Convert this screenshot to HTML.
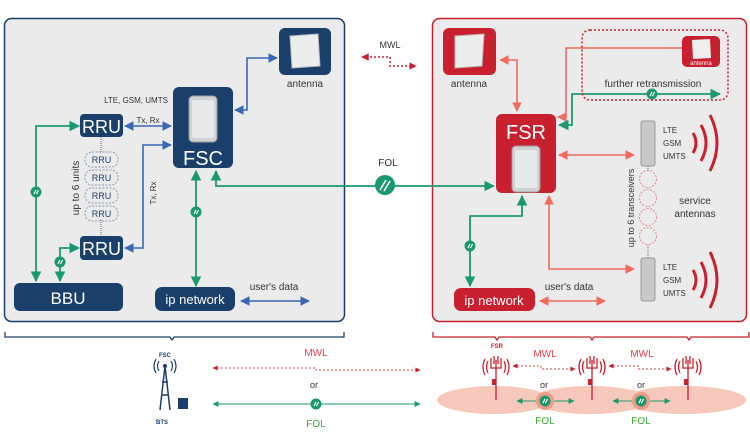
<!DOCTYPE html>
<html><head><meta charset="utf-8"><style>
html,body{margin:0;padding:0;background:#fff}
svg{display:block;font-family:"Liberation Sans",sans-serif}
</style></head><body>
<svg width="750" height="439" viewBox="0 0 750 439" xmlns="http://www.w3.org/2000/svg">
<defs>
<marker id="ab" viewBox="0 0 10 10" refX="9" refY="5" markerWidth="6" markerHeight="6" orient="auto-start-reverse"><path d="M0,0L10,5L0,10z" fill="#3a66b5"/></marker>
<marker id="ag" viewBox="0 0 10 10" refX="9" refY="5" markerWidth="6" markerHeight="6" orient="auto-start-reverse"><path d="M0,0L10,5L0,10z" fill="#1a9a6c"/></marker>
<marker id="ar" viewBox="0 0 10 10" refX="9" refY="5" markerWidth="6" markerHeight="6" orient="auto-start-reverse"><path d="M0,0L10,5L0,10z" fill="#f06a60"/></marker>
<marker id="ad" viewBox="0 0 10 10" refX="9" refY="5" markerWidth="5" markerHeight="5" orient="auto-start-reverse"><path d="M0,0L10,5L0,10z" fill="#c8202f"/></marker>
<g id="gi"><circle r="5.5" fill="#1a9a6c"/><path d="M-2,2L0,-2M0.5,2L2.5,-2" stroke="#fff" stroke-width="1.2"/></g>
<g id="box"><rect x="-14" y="-22" width="28" height="46" rx="4" fill="#d0d2d4" stroke="#9a9da0"/><rect x="-11" y="-18" width="22" height="38" rx="2" fill="#e8e9ea"/></g>
</defs>
<rect x="4.5" y="18.5" width="340" height="303" rx="7" fill="#ebebeb" stroke="#1b3f6b" stroke-width="1.5"/>
<rect x="432.5" y="18.5" width="314" height="303" rx="7" fill="#ebebeb" stroke="#c8202f" stroke-width="1.5"/>

<g stroke="#3a66b5" stroke-width="1.6" fill="none">
<path d="M125,126H171" marker-start="url(#ab)" marker-end="url(#ab)"/>
<path d="M125,248H143V145H171" marker-start="url(#ab)" marker-end="url(#ab)"/>
<path d="M235,110H247V58H277" marker-start="url(#ab)" marker-end="url(#ab)"/>
<path d="M241,301H309" marker-start="url(#ab)" marker-end="url(#ab)"/>
</g>
<g stroke="#1a9a6c" stroke-width="1.8" fill="none">
<path d="M79,126H36V281" marker-start="url(#ag)" marker-end="url(#ag)"/>
<path d="M79,248H60V281" marker-start="url(#ag)" marker-end="url(#ag)"/>
<path d="M196,171V286" marker-start="url(#ag)" marker-end="url(#ag)"/>
<path d="M216,171V186H494" marker-start="url(#ag)" marker-end="url(#ag)"/>
</g>
<use href="#gi" x="36" y="192"/><use href="#gi" x="60" y="262"/><use href="#gi" x="196" y="212"/>
<circle cx="385" cy="185" r="10" fill="#1a9a6c"/><path d="M380,190L386,180M384,191L390,181" stroke="#fff" stroke-width="1.5"/>
<text x="388" y="166" font-size="10" fill="#333" text-anchor="middle">FOL</text>

<rect x="279" y="28" width="52" height="47" rx="6" fill="#1b3f6b"/>
<path d="M290,36L318,34L320,66L292,68Z" fill="#eceded" stroke="#bbb"/>
<text x="305" y="87" font-size="10" fill="#333" text-anchor="middle">antenna</text>
<rect x="173" y="87" width="60" height="81" rx="6" fill="#1b3f6b"/>
<use href="#box" x="203" y="118"/>
<text x="203" y="165" font-size="20" fill="#fff" text-anchor="middle">FSC</text>
<text x="136" y="103" font-size="8" fill="#333" text-anchor="middle">LTE, GSM, UMTS</text>
<text x="148" y="123" font-size="8" fill="#333" text-anchor="middle">Tx, Rx</text>
<text x="0" y="0" font-size="8" fill="#333" text-anchor="middle" transform="translate(156,193) rotate(-90)">Tx, Rx</text>
<rect x="80" y="114" width="43" height="23" rx="4" fill="#1b3f6b"/>
<text x="101.5" y="133" font-size="18" fill="#fff" text-anchor="middle">RRU</text>
<rect x="80" y="236" width="43" height="24" rx="4" fill="#1b3f6b"/>
<text x="101.5" y="255" font-size="18" fill="#fff" text-anchor="middle">RRU</text>
<path d="M101,137V152M101,220V236" stroke="#666" stroke-dasharray="1,1"/>
<g fill="none" stroke="#8a9ab5" stroke-dasharray="2,1.5">
<rect x="85" y="152" width="33" height="15" rx="7"/><rect x="85" y="170" width="33" height="15" rx="7"/>
<rect x="85" y="188" width="33" height="15" rx="7"/><rect x="85" y="206" width="33" height="15" rx="7"/></g>
<g font-size="9" fill="#1b3f6b" text-anchor="middle"><text x="101.5" y="163">RRU</text><text x="101.5" y="181">RRU</text><text x="101.5" y="199">RRU</text><text x="101.5" y="217">RRU</text></g>
<text font-size="10" fill="#333" text-anchor="middle" transform="translate(79,188) rotate(-90)">up to 6 units</text>
<rect x="14" y="283" width="109" height="28" rx="6" fill="#1b3f6b"/>
<text x="68" y="304" font-size="17" fill="#fff" text-anchor="middle">BBU</text>
<rect x="155" y="287" width="80" height="24" rx="7" fill="#1b3f6b"/>
<text x="195" y="304" font-size="13" fill="#fff" text-anchor="middle">ip network</text>
<text x="274" y="290" font-size="10" fill="#333" text-anchor="middle">user's data</text>

<text x="390" y="48" font-size="9" fill="#333" text-anchor="middle">MWL</text>
<path d="M362,57H390V66H416" stroke="#c8202f" stroke-width="1.5" stroke-dasharray="2,2" fill="none" marker-start="url(#ad)" marker-end="url(#ad)"/>

<g stroke="#f06a60" stroke-width="1.6" fill="none">
<path d="M500,60H517V111" marker-start="url(#ar)" marker-end="url(#ar)"/>
<path d="M682,48H566V117H558" marker-end="url(#ar)"/>
<path d="M559,155H634" marker-start="url(#ar)" marker-end="url(#ar)"/>
<path d="M549,196V269H634" marker-start="url(#ar)" marker-end="url(#ar)"/>
<path d="M540,301H605" marker-start="url(#ar)" marker-end="url(#ar)"/>
</g>
<g stroke="#1a9a6c" stroke-width="1.8" fill="none">
<path d="M559,125H572V94H720" marker-start="url(#ag)" marker-end="url(#ag)"/>
<path d="M522,196V216H470V286" marker-start="url(#ag)" marker-end="url(#ag)"/>
</g>
<use href="#gi" x="652" y="94"/><use href="#gi" x="470" y="246"/>
<rect x="582" y="30" width="146" height="70" rx="8" fill="none" stroke="#c8202f" stroke-width="1.5" stroke-dasharray="2,2"/>
<rect x="682" y="36" width="38" height="31" rx="5" fill="#c8202f"/>
<path d="M692,40L710,39L711,58L693,59Z" fill="#eee"/>
<text x="701" y="65" font-size="6" fill="#fff" text-anchor="middle">antenna</text>
<text x="653" y="87" font-size="10" fill="#333" text-anchor="middle">further retransmission</text>
<rect x="443" y="28" width="53" height="47" rx="6" fill="#c8202f"/>
<path d="M455,36L484,34L482,66L455,68Z" fill="#eceded" stroke="#bbb"/>
<text x="469" y="87" font-size="10" fill="#333" text-anchor="middle">antenna</text>
<rect x="496" y="114" width="60" height="79" rx="6" fill="#c8202f"/>
<text x="526" y="139" font-size="20" fill="#fff" text-anchor="middle">FSR</text>
<use href="#box" x="526" y="168"/>
<rect x="454" y="288" width="81" height="23" rx="7" fill="#c8202f"/>
<text x="494" y="305" font-size="13" fill="#fff" text-anchor="middle">ip network</text>
<text x="569" y="290" font-size="10" fill="#333" text-anchor="middle">user's data</text>
<rect x="641" y="121" width="14" height="45" rx="2" fill="#c8c9ca" stroke="#999"/>
<rect x="641" y="258" width="14" height="43" rx="2" fill="#c8c9ca" stroke="#999"/>
<g font-size="8" fill="#333"><text x="663" y="133">LTE</text><text x="663" y="146">GSM</text><text x="663" y="159">UMTS</text>
<text x="663" y="270">LTE</text><text x="663" y="283">GSM</text><text x="663" y="296">UMTS</text></g>
<g fill="none" stroke="#c8202f" stroke-width="3">
<path d="M693,133Q699,143 693,153"/><path d="M701,125Q711,143 701,161"/><path d="M710,115Q724,143 710,171"/>
<path d="M693,270Q699,280 693,290"/><path d="M701,262Q711,280 701,298"/><path d="M710,252Q724,280 710,308"/></g>
<g fill="none" stroke="#e08a90" stroke-dasharray="2,1.5"><circle cx="648" cy="179" r="8.5"/><circle cx="648" cy="198" r="8.5"/><circle cx="648" cy="217" r="8.5"/><circle cx="648" cy="236" r="8.5"/></g>
<path d="M648,166V171M648,245V258" stroke="#666" stroke-dasharray="1,1"/>
<text font-size="9" fill="#333" text-anchor="middle" transform="translate(634,208) rotate(-90)">up to 6 transceivers</text>
<text x="695" y="204" font-size="10" fill="#333" text-anchor="middle">service</text>
<text x="695" y="217" font-size="10" fill="#333" text-anchor="middle">antennas</text>

<path d="M5,332V337H170L172,340L174,337H344V332" stroke="#1b3f6b" stroke-width="1.3" fill="none"/>
<path d="M433,332V337H495L497,340L499,337H590L592,340L594,337H687L689,340L691,337H749V332" stroke="#c8202f" stroke-width="1.3" fill="none"/>

<text x="165" y="357" font-size="6" font-weight="bold" fill="#1b3f6b" text-anchor="middle">FSC</text>
<path d="M160,410L165,366L170,410M161,395H169M162,382H168" stroke="#1b3f6b" stroke-width="1.5" fill="none"/>
<circle cx="165" cy="366" r="2" fill="#1b3f6b"/>
<g fill="none" stroke="#1b3f6b" stroke-width="1.2"><path d="M159,361Q156,366 159,371M156,359Q152,366 156,373M171,361Q174,366 171,371M174,359Q178,366 174,373"/></g>
<rect x="178" y="398" width="10" height="11" fill="#1b3f6b"/>
<text x="162" y="424" font-size="6" font-weight="bold" fill="#1b3f6b" text-anchor="middle">BTS</text>
<text x="316" y="356" font-size="10" fill="#e5444f" text-anchor="middle">MWL</text>
<path d="M213,368H316V370H420" stroke="#e5444f" stroke-dasharray="2,2" fill="none" marker-start="url(#ad)" marker-end="url(#ad)"/>
<text x="314" y="388" font-size="9" fill="#333" text-anchor="middle">or</text>
<path d="M213,404H420" stroke="#1a9a6c" fill="none" marker-start="url(#ag)" marker-end="url(#ag)"/>
<use href="#gi" x="316" y="404"/>
<text x="316" y="427" font-size="10" fill="#3aaa3a" text-anchor="middle">FOL</text>

<g fill="#f6c2b4" opacity="0.9"><ellipse cx="494" cy="400" rx="57" ry="14"/><ellipse cx="590" cy="400" rx="60" ry="14"/><ellipse cx="684" cy="400" rx="62" ry="14"/></g>
<text x="497" y="348" font-size="6" font-weight="bold" fill="#c8202f" text-anchor="middle">FSR</text>
<g stroke="#c8202f" fill="none" stroke-width="1.3">
<g id="tw"><path d="M496,360V400M491,358V368H501V358M494,356V364M498,356V364"/><path d="M488,361Q485,367 488,373M485,359Q481,367 485,375M504,361Q507,367 504,373M507,359Q511,367 507,375"/></g>
<use href="#tw" x="96"/><use href="#tw" x="192"/></g>
<g fill="#c8202f"><rect x="492" y="379" width="4" height="6"/><rect x="588" y="379" width="4" height="6"/><rect x="684" y="379" width="4" height="6"/></g>
<text x="545" y="357" font-size="10" fill="#e5444f" text-anchor="middle">MWL</text>
<text x="642" y="357" font-size="10" fill="#e5444f" text-anchor="middle">MWL</text>
<g stroke="#e5444f" stroke-dasharray="2,2" fill="none">
<path d="M513,366H541V369H575" marker-start="url(#ad)" marker-end="url(#ad)"/>
<path d="M609,366H638V369H671" marker-start="url(#ad)" marker-end="url(#ad)"/></g>
<text x="544" y="388" font-size="9" fill="#333" text-anchor="middle">or</text>
<text x="641" y="388" font-size="9" fill="#333" text-anchor="middle">or</text>
<g stroke="#1a9a6c" fill="none"><path d="M517,401H574" marker-start="url(#ag)" marker-end="url(#ag)"/><path d="M613,401H670" marker-start="url(#ag)" marker-end="url(#ag)"/></g>
<circle cx="545" cy="401" r="9" fill="#ee9a88"/><circle cx="641" cy="401" r="9" fill="#ee9a88"/>
<use href="#gi" x="545" y="401"/><use href="#gi" x="641" y="401"/>
<text x="545" y="424" font-size="10" fill="#3aaa3a" text-anchor="middle">FOL</text>
<text x="641" y="424" font-size="10" fill="#3aaa3a" text-anchor="middle">FOL</text>
</svg>
</body></html>
